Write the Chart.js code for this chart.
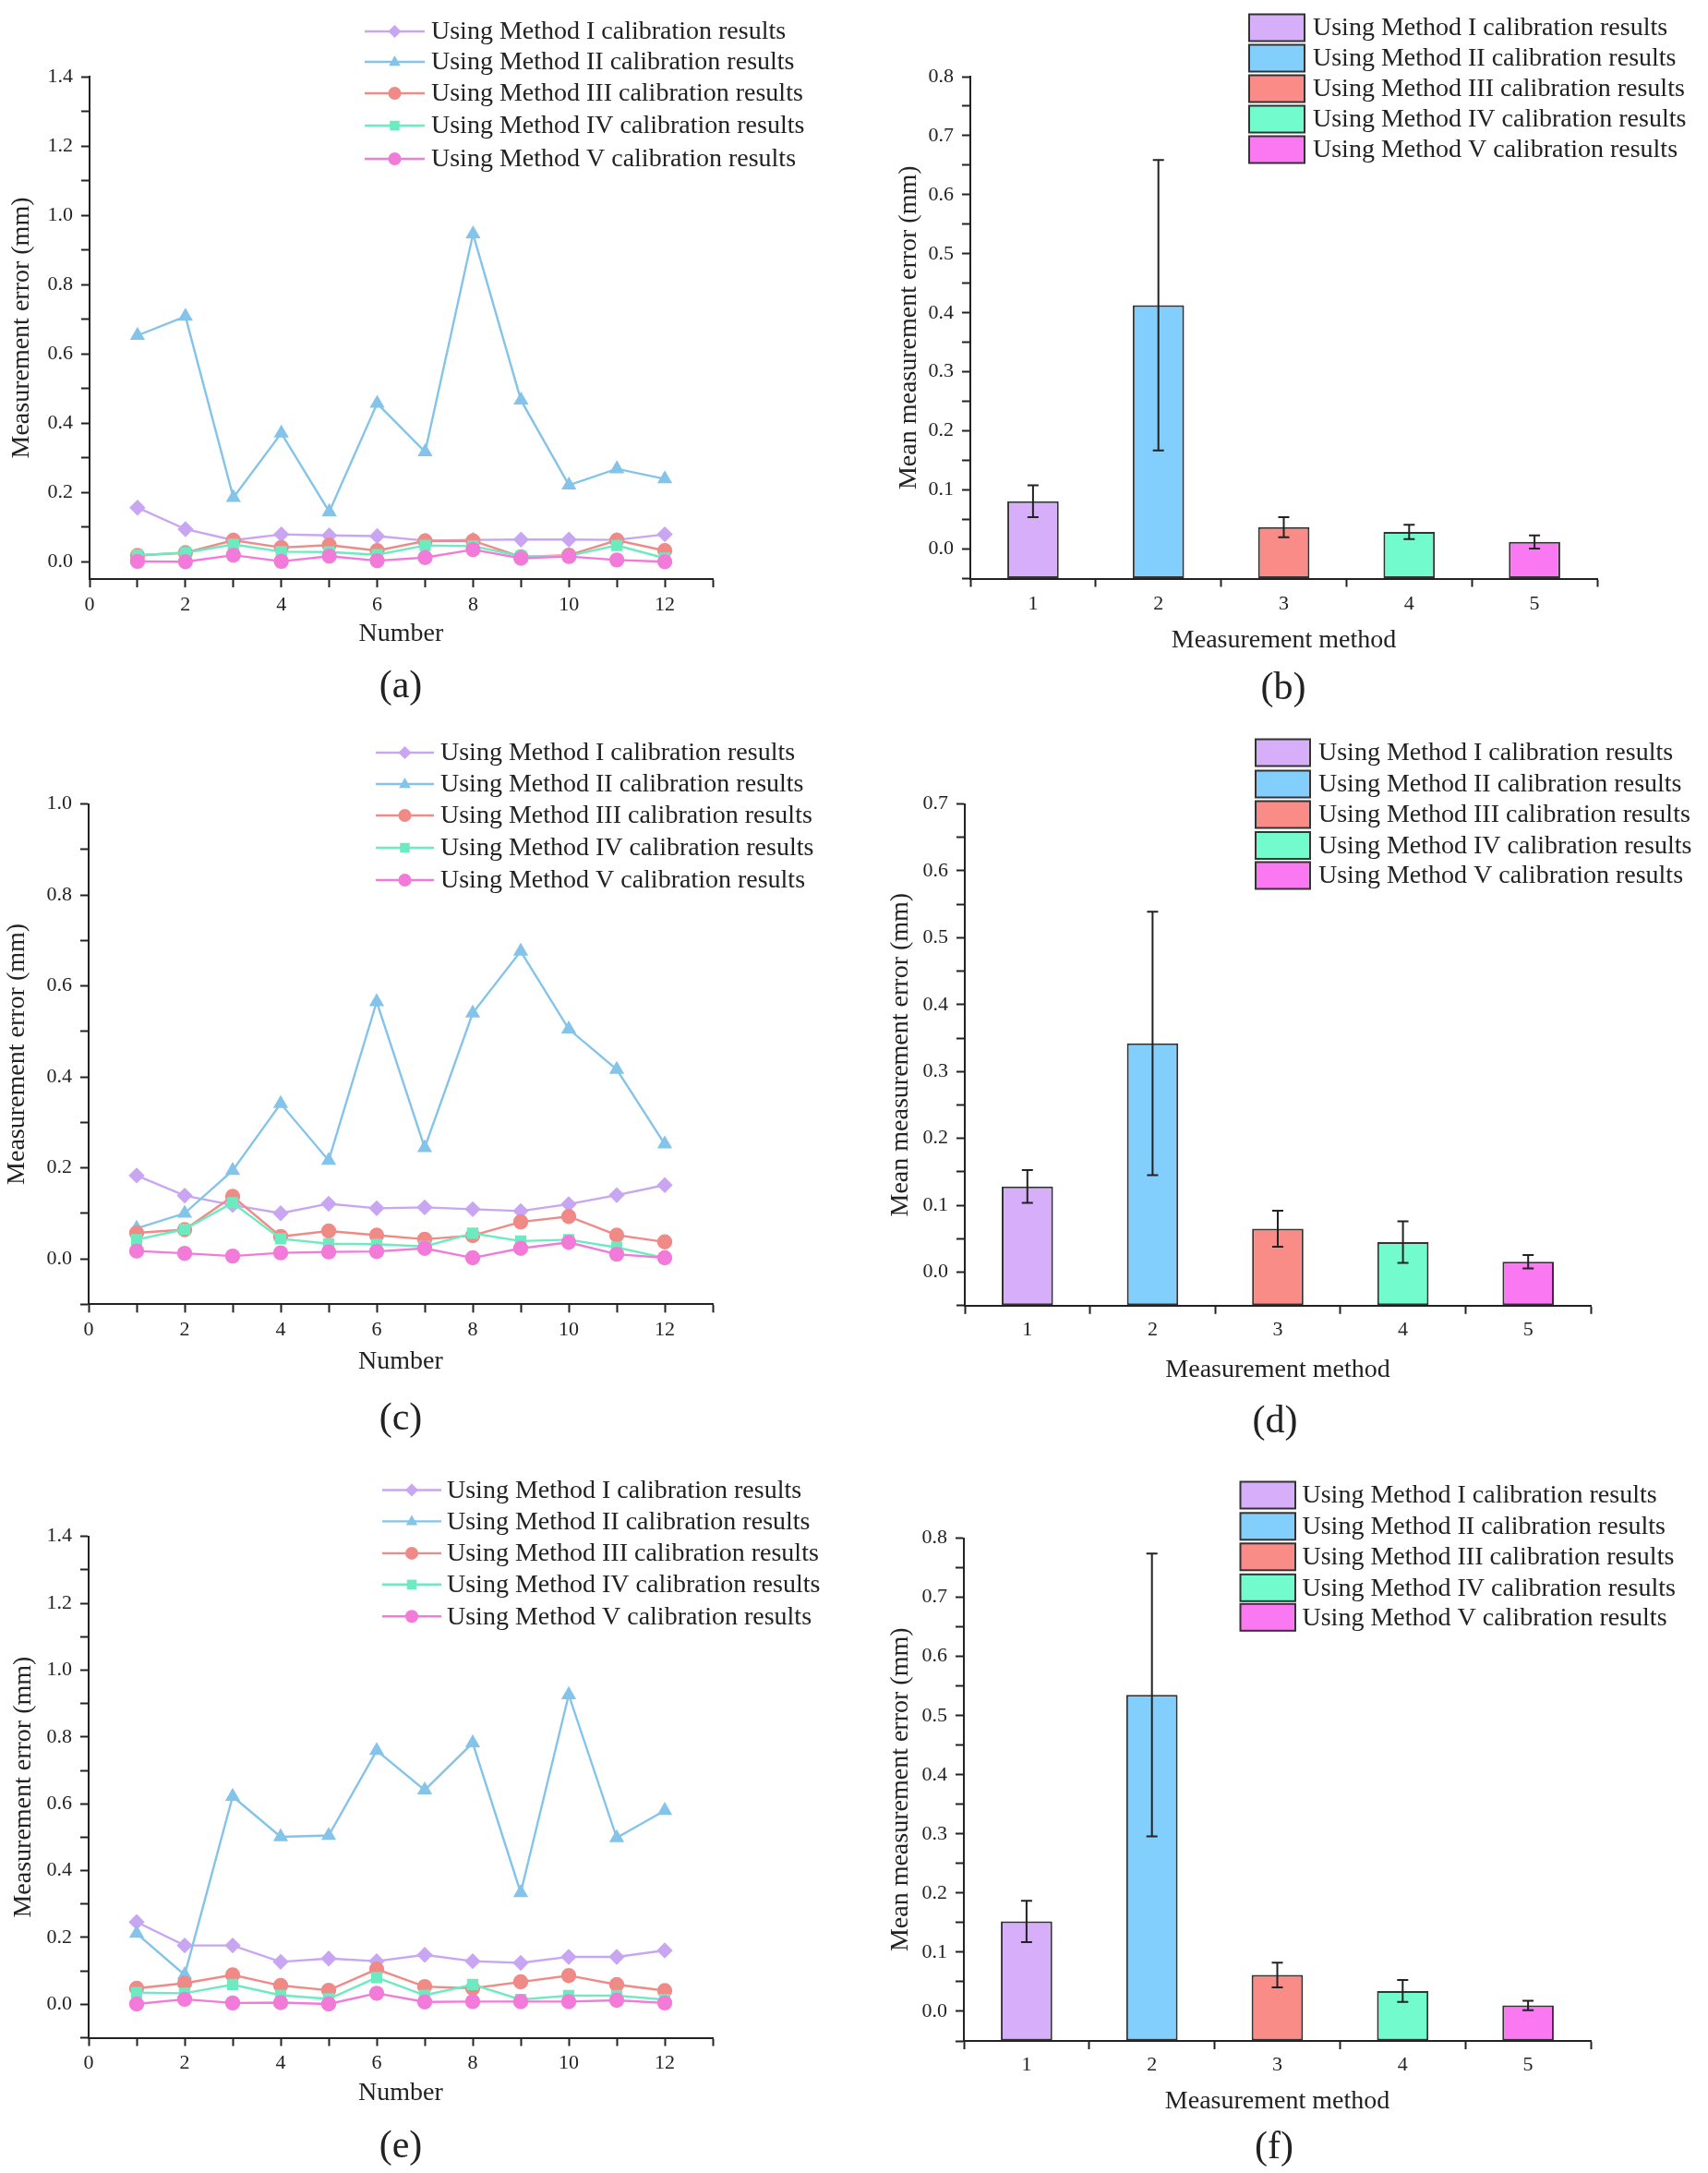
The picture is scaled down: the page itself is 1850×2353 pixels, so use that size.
<!DOCTYPE html>
<html>
<head>
<meta charset="utf-8">
<title>Measurement error of the five calibration methods</title>
<script src="https://cdn.jsdelivr.net/npm/chart.js@4.4.0/dist/chart.umd.min.js"></script>
<style>
  html, body { margin: 0; padding: 0; background: #fff; }
  #page { position: relative; width: 1850px; height: 2353px; overflow: hidden; background: #fff; }
  canvas { position: absolute; }
  .cap {
    position: absolute;
    font-family: 'Liberation Serif', 'Times New Roman', serif;
    font-size: 42px;
    line-height: 1;
    color: #222;
    transform: translate(-50%, -50%);
    white-space: nowrap;
  }
</style>
</head>
<body>
<div id="page">
  <canvas id="chartA" width="925" height="780" style="left:0px;top:0px"></canvas>
  <canvas id="chartB" width="925" height="780" style="left:925px;top:0px"></canvas>
  <canvas id="chartC" width="925" height="800" style="left:0px;top:780px"></canvas>
  <canvas id="chartD" width="925" height="800" style="left:925px;top:780px"></canvas>
  <canvas id="chartE" width="925" height="773" style="left:0px;top:1580px"></canvas>
  <canvas id="chartF" width="925" height="773" style="left:925px;top:1580px"></canvas>

  <div class="cap" style="left:434px;top:741px">(a)</div>
  <div class="cap" style="left:1390px;top:743px">(b)</div>
  <div class="cap" style="left:434px;top:1534px">(c)</div>
  <div class="cap" style="left:1381px;top:1537px">(d)</div>
  <div class="cap" style="left:434px;top:2322px">(e)</div>
  <div class="cap" style="left:1380px;top:2323px">(f)</div>
</div>

<script>
Chart.defaults.font.family = "'Liberation Serif', 'Times New Roman', serif";
Chart.defaults.color = '#222';
Chart.defaults.animation = false;

/** data **/
const numbers = [1, 2, 3, 4, 5, 6, 7, 8, 9, 10, 11, 12];
const methodIds = ['1', '2', '3', '4', '5'];
const methodNames = [
  'Using Method I calibration results',
  'Using Method II calibration results',
  'Using Method III calibration results',
  'Using Method IV calibration results',
  'Using Method V calibration results'
];

// (a) measurement error per number
const aMethodI   = [0.156, 0.094, 0.062, 0.079, 0.076, 0.074, 0.061, 0.063, 0.064, 0.064, 0.063, 0.079];
const aMethodII  = [0.653, 0.708, 0.185, 0.371, 0.144, 0.457, 0.317, 0.946, 0.466, 0.221, 0.268, 0.239];
const aMethodIII = [0.018, 0.026, 0.062, 0.041, 0.048, 0.032, 0.060, 0.060, 0.014, 0.019, 0.062, 0.032];
const aMethodIV  = [0.019, 0.026, 0.050, 0.029, 0.028, 0.020, 0.047, 0.045, 0.016, 0.017, 0.047, 0.010];
const aMethodV   = [0.001, 0.000, 0.019, 0.001, 0.016, 0.003, 0.012, 0.035, 0.010, 0.015, 0.005, 0.000];

// (b) mean error and spread
const bMeans  = [0.081, 0.413, 0.037, 0.029, 0.012];
const bErrors = [0.027, 0.246, 0.017, 0.012, 0.011];

// (c)
const cMethodI   = [0.183, 0.139, 0.118, 0.100, 0.121, 0.111, 0.113, 0.109, 0.105, 0.120, 0.140, 0.162];
const cMethodII  = [0.067, 0.100, 0.194, 0.341, 0.216, 0.565, 0.244, 0.540, 0.676, 0.505, 0.416, 0.252];
const cMethodIII = [0.057, 0.064, 0.137, 0.049, 0.061, 0.052, 0.043, 0.051, 0.081, 0.093, 0.052, 0.037];
const cMethodIV  = [0.042, 0.065, 0.123, 0.044, 0.033, 0.032, 0.027, 0.056, 0.039, 0.042, 0.025, 0.002];
const cMethodV   = [0.017, 0.012, 0.006, 0.013, 0.015, 0.016, 0.023, 0.002, 0.023, 0.036, 0.010, 0.002];

// (d)
const dMeans  = [0.128, 0.342, 0.065, 0.045, 0.0155];
const dErrors = [0.0245, 0.197, 0.027, 0.031, 0.010];

// (e)
const eMethodI   = [0.246, 0.176, 0.176, 0.127, 0.137, 0.129, 0.148, 0.129, 0.124, 0.142, 0.142, 0.161];
const eMethodII  = [0.212, 0.088, 0.622, 0.501, 0.505, 0.759, 0.641, 0.782, 0.334, 0.926, 0.498, 0.580];
const eMethodIII = [0.048, 0.063, 0.088, 0.056, 0.042, 0.105, 0.053, 0.048, 0.067, 0.086, 0.059, 0.041];
const eMethodIV  = [0.035, 0.033, 0.059, 0.027, 0.016, 0.080, 0.027, 0.059, 0.014, 0.026, 0.026, 0.014];
const eMethodV   = [0.001, 0.015, 0.004, 0.005, 0.001, 0.033, 0.007, 0.008, 0.008, 0.008, 0.012, 0.004];

// (f)
const fMeans  = [0.152, 0.535, 0.0615, 0.0345, 0.010];
const fErrors = [0.035, 0.239, 0.021, 0.0185, 0.008];

/** styles **/
const lineColors = ['#C8A6F2', '#84C4EA', '#F08A86', '#6DEBC0', '#F27AD9'];
const barColors  = ['#D6AEF9', '#82CEFC', '#FA8C88', '#72FBCD', '#FB78F3'];
const pointStyles = ['rectRot', 'triangle', 'circle', 'rect', 'circle'];
const ink = '#222';

function isMajor(v, step) {
  const r = v / step;
  return v > -1e-9 && Math.abs(r - Math.round(r)) < 1e-6;
}

function drawMarker(ctx, style, x, y, r) {
  ctx.beginPath();
  if (style === 'circle') {
    ctx.arc(x, y, r, 0, Math.PI * 2);
  } else if (style === 'rectRot') {
    ctx.moveTo(x, y - r); ctx.lineTo(x + r, y); ctx.lineTo(x, y + r); ctx.lineTo(x - r, y);
    ctx.closePath();
  } else if (style === 'triangle') {
    ctx.moveTo(x, y - r); ctx.lineTo(x + r * 0.9, y + r * 0.6); ctx.lineTo(x - r * 0.9, y + r * 0.6);
    ctx.closePath();
  } else {
    const s = r * 0.75;
    ctx.rect(x - s, y - s, 2 * s, 2 * s);
  }
  ctx.fill();
}

// legend drawn on the canvas, overlapping the top right of the plot like the original
function sideLegend(lg, kind) {
  return {
    id: 'sideLegend',
    afterDraw(chart) {
      const ctx = chart.ctx;
      ctx.save();
      ctx.font = "28px 'Liberation Serif', 'Times New Roman', serif";
      ctx.textBaseline = 'middle';
      lg.rows.forEach(function (y, i) {
        if (kind === 'line') {
          ctx.strokeStyle = lineColors[i];
          ctx.fillStyle = lineColors[i];
          ctx.lineWidth = 2.4;
          ctx.beginPath();
          ctx.moveTo(lg.x0, y); ctx.lineTo(lg.x1, y);
          ctx.stroke();
          drawMarker(ctx, pointStyles[i], (lg.x0 + lg.x1) / 2, y, 7);
        } else {
          ctx.fillStyle = barColors[i];
          ctx.fillRect(lg.x0, y - 14.5, lg.x1 - lg.x0, 29);
          ctx.strokeStyle = '#333';
          ctx.lineWidth = 2;
          ctx.strokeRect(lg.x0, y - 14.5, lg.x1 - lg.x0, 29);
        }
        ctx.fillStyle = ink;
        ctx.fillText(methodNames[i], lg.textX, y + 1);
      });
      ctx.restore();
    }
  };
}

function errorBars(errs) {
  return {
    id: 'errorBars',
    afterDatasetsDraw(chart) {
      const ctx = chart.ctx;
      const yScale = chart.scales.y;
      const vals = chart.data.datasets[0].data;
      ctx.save();
      ctx.strokeStyle = ink;
      ctx.lineWidth = 2;
      chart.getDatasetMeta(0).data.forEach(function (bar, i) {
        const top = yScale.getPixelForValue(vals[i] + errs[i]);
        const bot = yScale.getPixelForValue(vals[i] - errs[i]);
        ctx.beginPath();
        ctx.moveTo(bar.x, top); ctx.lineTo(bar.x, bot);
        ctx.moveTo(bar.x - 6, top); ctx.lineTo(bar.x + 6, top);
        ctx.moveTo(bar.x - 6, bot); ctx.lineTo(bar.x + 6, bot);
        ctx.stroke();
      });
      ctx.restore();
    }
  };
}

function axisLook() {
  return {
    border: { display: true, color: ink, width: 2 },
    grid: { drawOnChartArea: false, drawTicks: true, tickLength: 9, tickColor: ink, tickWidth: 2 }
  };
}

function layoutOf(p, w, h) {
  const xAxisH = p.xTitleY + 16.8 - p.bottom;
  return {
    padding: { left: 0, top: p.top, right: w - p.right, bottom: h - p.bottom - xAxisH }
  };
}

function yAxis(p, title) {
  return Object.assign(axisLook(), {
    min: p.yMin,
    max: p.yMax,
    ticks: {
      stepSize: p.yMinor, includeBounds: false, autoSkip: false, padding: 9,
      font: { size: 22 }, color: ink,
      callback: v => isMajor(v, p.yMajor) ? v.toFixed(1) : ''
    },
    title: { display: true, text: title, color: ink, font: { size: 28 }, padding: { top: p.yTitleX - 16.8, bottom: 0 } },
    afterFit: s => { s.width = p.left; }
  });
}

function lineChart(id, series, p) {
  const canvas = document.getElementById(id);
  const datasets = series.map(function (vals, i) {
    return {
      label: methodNames[i],
      data: numbers.map((n, k) => ({ x: n, y: vals[k] })),
      borderColor: lineColors[i],
      backgroundColor: lineColors[i],
      pointBorderColor: lineColors[i],
      pointBackgroundColor: lineColors[i],
      pointStyle: pointStyles[i],
      pointRadius: 7,
      borderWidth: 2.4,
      order: 4 - i
    };
  });
  return new Chart(canvas, {
    type: 'line',
    data: { datasets: datasets },
    options: {
      responsive: false,
      layout: layoutOf(p, canvas.width, canvas.height),
      plugins: { legend: false, tooltip: { enabled: false } },
      scales: {
        x: Object.assign(axisLook(), {
          type: 'linear', min: 0, max: 13,
          ticks: {
            stepSize: 1, autoSkip: false, maxRotation: 0, padding: p.tickPad,
            font: { size: 22 }, color: ink,
            callback: v => (v % 2 === 0 && v < 13) ? String(v) : ''
          },
          title: { display: true, text: 'Number', color: ink, font: { size: 28 }, padding: 0 },
          afterFit: s => { s.height = p.xTitleY + 16.8 - p.bottom; }
        }),
        y: yAxis(p, 'Measurement error (mm)')
      }
    },
    plugins: [sideLegend(p.legend, 'line')]
  });
}

function barChart(id, means, errs, p) {
  const canvas = document.getElementById(id);
  return new Chart(canvas, {
    type: 'bar',
    data: {
      labels: methodIds,
      datasets: [{
        data: means,
        backgroundColor: barColors,
        borderColor: '#333',
        borderWidth: 2,
        borderSkipped: false,
        base: p.yMin,
        barPercentage: 0.41,
        categoryPercentage: 1
      }]
    },
    options: {
      responsive: false,
      layout: layoutOf(p, canvas.width, canvas.height),
      plugins: { legend: false, tooltip: { enabled: false } },
      scales: {
        x: Object.assign(axisLook(), {
          offset: true,
          ticks: { autoSkip: false, maxRotation: 0, padding: p.tickPad, font: { size: 22 }, color: ink },
          title: { display: true, text: 'Measurement method', color: ink, font: { size: 28 }, padding: 0 },
          afterFit: s => { s.height = p.xTitleY + 16.8 - p.bottom; }
        }),
        y: yAxis(p, 'Mean measurement error (mm)')
      }
    },
    plugins: [errorBars(errs), sideLegend(p.legend, 'box')]
  });
}

/** panels **/
const chartA = lineChart('chartA', [aMethodI, aMethodII, aMethodIII, aMethodIV, aMethodV], {
  left: 97, right: 772, top: 83, bottom: 627,
  yMin: -0.05, yMax: 1.4, yMinor: 0.1, yMajor: 0.2,
  tickPad: 6, xTitleY: 687, yTitleX: 24,
  legend: { x0: 395, x1: 460, textX: 467, rows: [34, 67, 101, 136, 172] }
});

const chartB = barChart('chartB', bMeans, bErrors, {
  left: 126, right: 805, top: 83, bottom: 626.5,
  yMin: -0.05, yMax: 0.8, yMinor: 0.05, yMajor: 0.1,
  tickPad: 6, xTitleY: 694, yTitleX: 60,
  legend: { x0: 428, x1: 488, textX: 497, rows: [30, 63, 96, 129, 162] }
});

const chartC = lineChart('chartC', [cMethodI, cMethodII, cMethodIII, cMethodIV, cMethodV], {
  left: 96, right: 772, top: 90.5, bottom: 632.3,
  yMin: -0.1, yMax: 1.0, yMinor: 0.1, yMajor: 0.2,
  tickPad: 5.5, xTitleY: 695, yTitleX: 19,
  legend: { x0: 407, x1: 470, textX: 477, rows: [35, 69, 103, 138, 173] }
});

const chartD = barChart('chartD', dMeans, dErrors, {
  left: 120, right: 798, top: 90.5, bottom: 633.8,
  yMin: -0.05, yMax: 0.7, yMinor: 0.05, yMajor: 0.1,
  tickPad: 4.5, xTitleY: 704, yTitleX: 51,
  legend: { x0: 435, x1: 494, textX: 503, rows: [35, 69, 102, 135.5, 168] }
});

const chartE = lineChart('chartE', [eMethodI, eMethodII, eMethodIII, eMethodIV, eMethodV], {
  left: 96, right: 772, top: 83.7, bottom: 626.5,
  yMin: -0.1, yMax: 1.4, yMinor: 0.1, yMajor: 0.2,
  tickPad: 6, xTitleY: 686.5, yTitleX: 26,
  legend: { x0: 414, x1: 478, textX: 484, rows: [33.5, 67.4, 101.9, 135.8, 170.3] }
});

const chartF = barChart('chartF', fMeans, fErrors, {
  left: 119, right: 798, top: 85.6, bottom: 630,
  yMin: -0.05, yMax: 0.8, yMinor: 0.05, yMajor: 0.1,
  tickPad: 4.5, xTitleY: 696, yTitleX: 51,
  legend: { x0: 418.5, x1: 478, textX: 485.5, rows: [39, 72.8, 105.8, 139.3, 171.3] }
});
</script>
</body>
</html>
